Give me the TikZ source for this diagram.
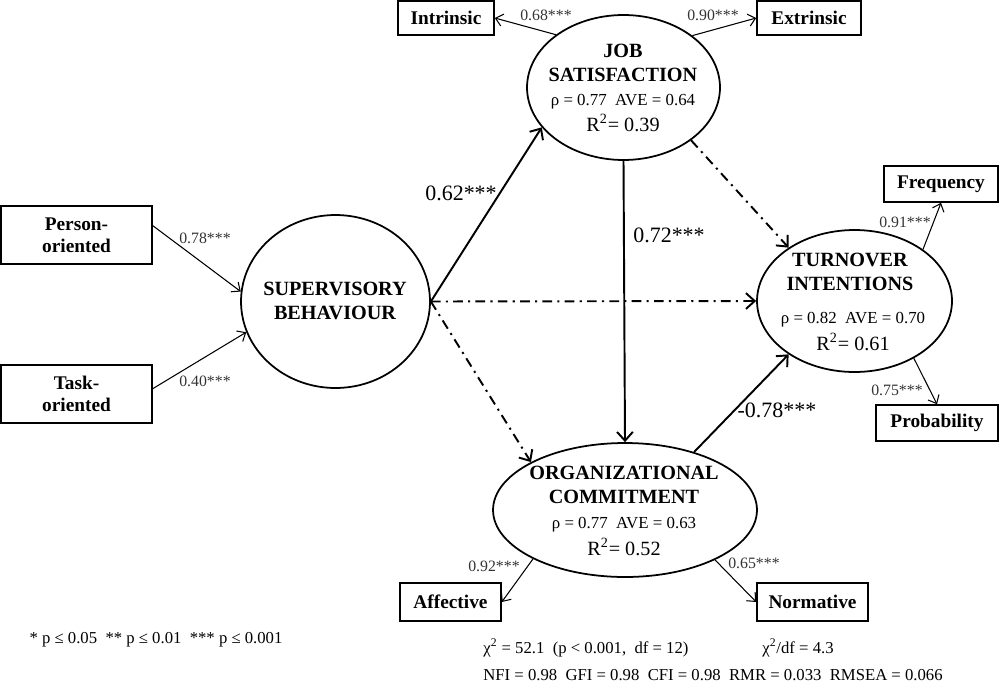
\documentclass[tikz,border=0pt]{standalone}
\usepackage{fontspec}
\setmainfont{Liberation Serif}
\usetikzlibrary{arrows.meta,shapes.geometric}
\begin{document}
\begin{tikzpicture}[x=0.02cm,y=-0.02cm,
  lat/.style={draw, ellipse, line width=1pt, inner sep=0pt},
  obs/.style={draw, line width=0.9pt, font=\bfseries\fontsize{11}{12.5}\selectfont, inner sep=0pt, align=center},
  ttl/.style={font=\bfseries\fontsize{11.5}{13.6}\selectfont, align=center, inner sep=0pt},
  stat/.style={font=\fontsize{9.6}{11}\selectfont, inner sep=0pt},
  rsq/.style={font=\fontsize{11.5}{13}\selectfont, inner sep=0pt},
  ld/.style={font=\fontsize{9}{10}\selectfont, text=black!80, inner sep=0pt},
  big/.style={font=\fontsize{12.5}{14}\selectfont, inner sep=0pt},
  foot/.style={font=\fontsize{9.5}{11}\selectfont, inner sep=0pt},
  thinarr/.style={-{Straight Barb[length=4pt,width=7pt]}, line width=0.6pt},
  mainarr/.style={-{Straight Barb[length=5pt,width=9pt]}, line width=1.1pt},
  dd/.style={mainarr, dash pattern=on 5.5pt off 3pt on 1.2pt off 3pt}]
\useasboundingbox (0,0) rectangle (1000,683);

% latent variables
\node[lat, minimum width=3.78cm, minimum height=3.46cm] (sb) at (335.5,301.5) {};
\node[lat, minimum width=3.86cm, minimum height=2.9cm] (js) at (623.5,87.5) {};
\node[lat, minimum width=3.9cm, minimum height=2.84cm] (ti) at (854.5,301) {};
\node[lat, minimum width=5.28cm, minimum height=2.68cm] (oc) at (625,510) {};

% texts in latent variables
\node[ttl] (sbt) at (335,301) {SUPERVISORY\\BEHAVIOUR};
\node[ttl] (jst) at (623,62.5) {JOB\\SATISFACTION};
\node[stat] (jss) at (623,102) {ρ = 0.77\ \ AVE = 0.64};
\node[rsq] (jsr) at (623,123) {R\textsuperscript{2}= 0.39};
\node[ttl] (tit) at (850,272) {TURNOVER\\INTENTIONS};
\node[stat] (tis) at (853,320) {ρ = 0.82\ \ AVE = 0.70};
\node[rsq] (tir) at (853,342) {R\textsuperscript{2}= 0.61};
\node[ttl] (oct) at (624,485) {ORGANIZATIONAL\\COMMITMENT};
\node[stat] (ocs) at (624,525) {ρ = 0.77\ \ AVE = 0.63};
\node[rsq] (ocr) at (624,547) {R\textsuperscript{2}= 0.52};

% observed indicators
\node[obs, minimum width=1.92cm, minimum height=0.68cm] (intr) at (446,18) {Intrinsic};
\node[obs, minimum width=2.08cm, minimum height=0.68cm] (extr) at (809,18) {Extrinsic};
\node[obs, minimum width=3.02cm, minimum height=1.16cm] (pers) at (76.5,235) {Person-\\oriented};
\node[obs, minimum width=3.02cm, minimum height=1.16cm] (task) at (76.5,394) {Task-\\oriented};
\node[obs, minimum width=2.28cm, minimum height=0.72cm] (freq) at (941,184) {Frequency};
\node[obs, minimum width=2.44cm, minimum height=0.72cm] (prob) at (937,423) {Probability};
\node[obs, minimum width=2.02cm, minimum height=0.76cm] (aff) at (450.5,602) {Affective};
\node[obs, minimum width=2.22cm, minimum height=0.76cm] (norm) at (812.5,602) {Normative};

% measurement arrows
\draw[thinarr] (js.142) -- (intr.east);
\draw[thinarr] (js.37.5) -- (extr.west);
\draw[thinarr] (pers.7.5) -- (sb.174);
\draw[thinarr] (task.4.5) -- (sb.199);
\draw[thinarr] (ti.37.2) -- (freq.south);
\draw[thinarr] (ti.316) -- (prob.north);
\draw[thinarr] (oc.208.3) -- (aff.east);
\draw[thinarr] (oc.331.7) -- (norm.west);

% structural paths
\draw[mainarr] (sb.east) -- (js.206.6);
\draw[mainarr] (js.south) -- (oc.north);
\draw[mainarr] (oc.40.5) -- (ti.219);
\draw[dd] (sb.east) -- (ti.west);
\draw[dd] (sb.east) -- (oc.153);
\draw[dd] (js.322) -- (ti.141);

% loadings
\node[ld] (l1) at (546,15) {0.68***};
\node[ld] (l2) at (713,15) {0.90***};
\node[ld] (l3) at (205,238) {0.78***};
\node[ld] (l4) at (205,381) {0.40***};
\node[ld] (l5) at (905,222) {0.91***};
\node[ld] (l6) at (897,390) {0.75***};
\node[ld] (l7) at (494,566) {0.92***};
\node[ld] (l8) at (754,563) {0.65***};

% path coefficients
\node[big] (p1) at (461,193) {0.62***};
\node[big] (p2) at (669,235) {0.72***};
\node[big] (p3) at (777,410) {-0.78***};

% footer
\node[foot] (f1) at (156,640) {* p ≤ 0.05\ \ ** p ≤ 0.01\ \ *** p ≤ 0.001};
\node[foot, anchor=west] (f2) at (483,648) {χ\textsuperscript{2} = 52.1\ \ (p < 0.001,\ \ df = 12)};
\node[foot, anchor=west] (f3) at (762,648) {χ\textsuperscript{2}/df = 4.3};
\node[foot, anchor=west] (f4) at (483,675) {NFI = 0.98\ \ GFI = 0.98\ \ CFI = 0.98\ \ RMR = 0.033\ \ RMSEA = 0.066};
\end{tikzpicture}
\end{document}
